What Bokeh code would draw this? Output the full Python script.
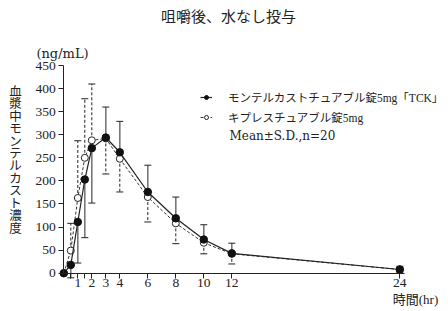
from bokeh.plotting import figure
from bokeh.models import Range1d, FixedTicker, Label, Legend, LegendItem
from bokeh.embed import file_html
from bokeh.resources import INLINE

# ---- data ----
time_hr = [0, 0.5, 1, 1.5, 2, 3, 4, 6, 8, 10, 12, 24]
tck_mean = [0, 18, 111, 203, 271, 294, 262, 176, 119, 73, 43, 8]
tck_sd = [0, 28, 89, 126, 119, 66, 67, 58, 46, 32, 22, 7]
kip_mean = [0, 49, 163, 250, 288, 292, 248, 165, 108, 66, 42, 8]
kip_sd = [0, 59, 124, 128, 122, 77, 72, 54, 44, 24, 22, 7]

x_ticks = [0.5, 1, 1.5, 2, 3, 4, 6, 8, 10, 12, 24]
x_tick_labels = ["", "1", "", "2", "3", "4", "6", "8", "10", "12", "24"]
y_ticks = [0, 50, 100, 150, 200, 250, 300, 350, 400, 450]

title_text = "咀嚼後、水なし投与"
y_unit = "(ng/mL)"
y_title = "血漿中モンテルカスト濃度"
x_title = "時間(hr)"
name_tck = "モンテルカストチュアブル錠5mg「TCK」"
name_kip = "キプレスチュアブル錠5mg"
note = "Mean±S.D.,n=20"

SERIF = "Liberation Serif"
JP = "Liberation Serif, Noto Sans CJK JP"
GOTHIC = "Noto Sans CJK JP"

W, H = 448, 311
PX_PER_HR = 14.0
PX_PER_UNIT = 0.4615
X0, Y0 = 63.3, 272.7  # canvas position of the data origin

p = figure(width=W, height=H, min_border_left=0, min_border_right=0,
           min_border_top=0, min_border_bottom=0, title=None,
           x_range=Range1d(-X0 / PX_PER_HR, (W - X0) / PX_PER_HR),
           y_range=Range1d(-(H - Y0) / PX_PER_UNIT, Y0 / PX_PER_UNIT),
           output_backend="svg", toolbar_location=None)
p.outline_line_color = None
p.xgrid.visible = False
p.ygrid.visible = False
p.background_fill_color = "white"
p.border_fill_color = "white"

# axes
for ax in (p.xaxis[0], p.yaxis[0]):
    ax.fixed_location = 0
    ax.axis_line_color = "#222222"
    ax.major_tick_line_color = "#222222"
    ax.minor_tick_line_color = None
    ax.major_tick_in = 0
    ax.major_label_text_font = SERIF
    ax.major_label_text_font_size = "13.5px"
    ax.major_label_text_color = "#222222"
p.xaxis[0].ticker = FixedTicker(ticks=x_ticks)
p.xaxis[0].major_label_overrides = {t: lab for t, lab in zip(x_ticks, x_tick_labels)}
p.xaxis[0].bounds = (0, 24.3)
p.xaxis[0].major_tick_out = 5
p.xaxis[0].major_label_standoff = 1
p.yaxis[0].ticker = FixedTicker(ticks=y_ticks)
p.yaxis[0].bounds = (0, 450)
p.yaxis[0].major_tick_out = 5
p.yaxis[0].major_label_standoff = 3

# error bars (one-sided)
tck_dir = [-1 if t <= 2 else 1 for t in time_hr]
kip_dir = [1 if t <= 2 else -1 for t in time_hr]
idx = [i for i, s in enumerate(tck_sd) if s > 0]
tx = [time_hr[i] for i in idx]
t0 = [tck_mean[i] for i in idx]
t1 = [tck_mean[i] + tck_dir[i] * tck_sd[i] for i in idx]
kidx = [i for i, s in enumerate(kip_sd) if s > 0]
kx = [time_hr[i] for i in kidx]
k0 = [kip_mean[i] for i in kidx]
k1 = [kip_mean[i] + kip_dir[i] * kip_sd[i] for i in kidx]

p.segment(x0=kx, y0=k0, x1=kx, y1=k1, line_color="#222222", line_width=1,
          line_dash="3 2")
p.scatter(x=kx, y=k1, marker="dash", size=7, line_color="#222222", line_width=1)
p.segment(x0=tx, y0=t0, x1=tx, y1=t1, line_color="#777777", line_width=1.6)
p.scatter(x=tx, y=t1, marker="dash", size=7, line_color="#222222", line_width=1)

# lines and markers
kl = p.line(time_hr, kip_mean, line_color="#333333", line_width=1, line_dash="3 2")
ks = p.scatter(time_hr, kip_mean, marker="circle", size=7, fill_color="white",
               line_color="#222222", line_width=1)
tl = p.line(time_hr, tck_mean, line_color="#222222", line_width=1.2)
ts = p.scatter(time_hr, tck_mean, marker="circle", size=7.5, fill_color="#111111",
               line_color="#111111")

legend = Legend(items=[LegendItem(label=name_tck, renderers=[tl, ts]),
                       LegendItem(label=name_kip, renderers=[kl, ks])],
                location=(200, H - 126.7), padding=0, margin=0, spacing=0,
                glyph_width=12, glyph_height=10, label_standoff=16,
                label_text_font=JP, label_text_font_size="11.5px",
                label_text_color="#222222", label_height=20,
                border_line_color=None, background_fill_alpha=0)
p.add_layout(legend, "center")


def lab(text, cx, cy, font, size, align="center", baseline="middle"):
    p.add_layout(Label(x=cx, y=H - cy, x_units="screen", y_units="screen",
                       text=text, text_font=font, text_font_size=size,
                       text_align=align, text_baseline=baseline,
                       text_color="#222222"))


lab(title_text, 228, 15, GOTHIC, "15px")
lab(y_unit, 62, 53, "DejaVu Serif", "13px")
lab(note, 229, 135, "DejaVu Serif", "12px", align="left")
lab(x_title, 415, 299, JP, "13px")
for i, ch in enumerate(y_title):
    lab(ch, 15, 89.7 + i * 12.45, GOTHIC, "12.5px")

open("out.html", "w").write(file_html(p, INLINE))
